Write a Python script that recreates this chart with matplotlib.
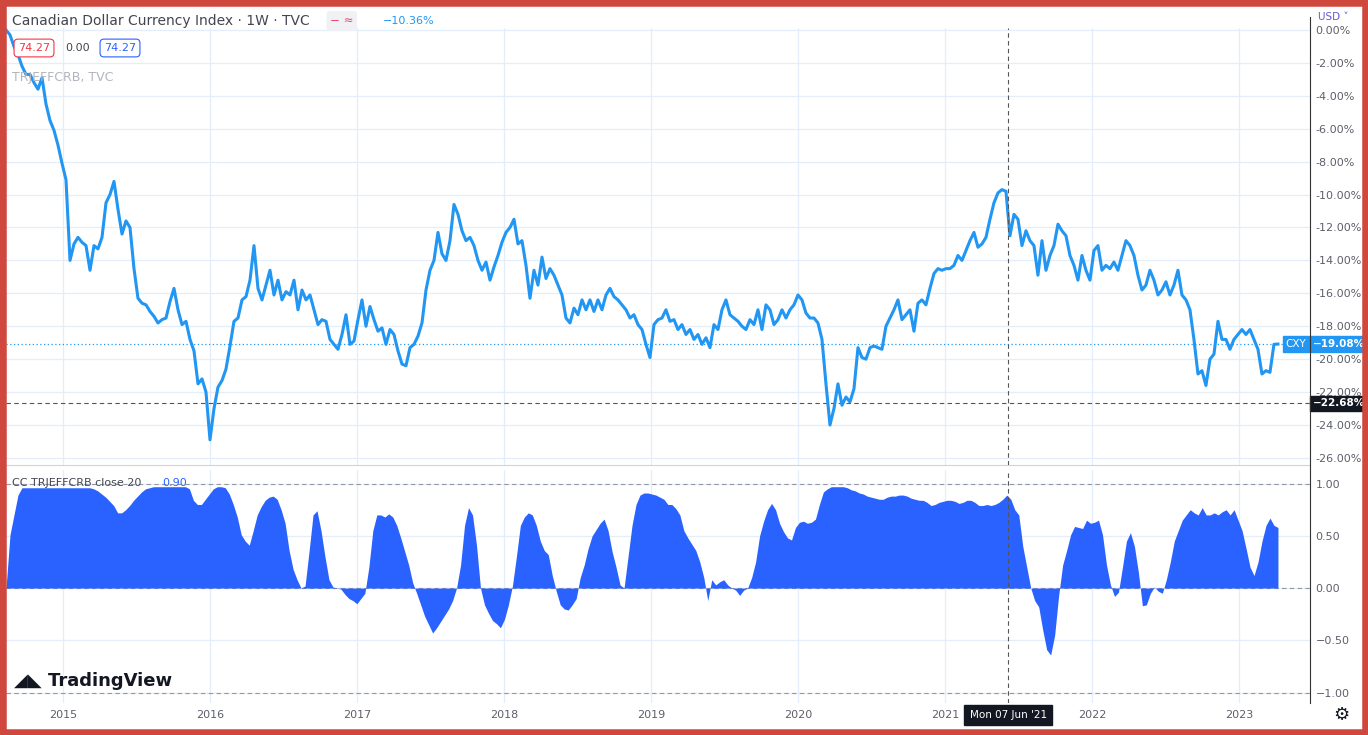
import matplotlib.pyplot as plt
import numpy as np
from matplotlib.patches import Rectangle

# CXY weekly change (%) sampled evenly from mid-2014 to Mar 2023
cxy = [0, -0.3, -1.0, -1.5, -2.2, -2.7, -2.7, -3.2, -3.6, -2.9, -4.5, -5.5, -6.1, -7.0, -8.1, -9.1,
       -14.0, -13.0, -12.6, -12.9, -13.1, -14.6, -13.1, -13.3, -12.6, -10.5, -10.0, -9.2, -10.9, -12.4,
       -11.6, -12.0, -14.5, -16.3, -16.6, -16.7, -17.1, -17.4, -17.8, -17.6, -17.5, -16.5, -15.7, -17.0,
       -17.9, -17.7, -18.8, -19.5, -21.5, -21.2, -22.0, -24.9, -23.0, -21.7, -21.3, -20.6, -19.2, -17.7,
       -17.5, -16.4, -16.2, -15.2, -13.1, -15.7, -16.4, -15.5, -14.6, -16.1, -15.2, -16.4, -15.9, -16.1,
       -15.2, -17.0, -15.8, -16.4, -16.1, -17.0, -17.9, -17.6, -17.7, -18.8, -19.1, -19.4, -18.5, -17.3,
       -19.1, -18.9, -17.6, -16.4, -18.0, -16.8, -17.6, -18.3, -18.1, -19.1, -18.2, -18.5, -19.5, -20.3,
       -20.4, -19.3, -19.1, -18.6, -17.8, -15.8, -14.6, -14.0, -12.3, -13.6, -14.0, -12.8, -10.6, -11.2,
       -12.2, -12.8, -12.6, -13.1, -14.0, -14.6, -14.1, -15.2, -14.4, -13.7, -12.9, -12.3, -12.0, -11.5,
       -13.0, -12.8, -14.3, -16.3, -14.6, -15.5, -13.8, -15.1, -14.5, -14.9, -15.5, -16.1, -17.5, -17.8,
       -16.9, -17.3, -16.4, -17.0, -16.4, -17.1, -16.4, -17.0, -16.1, -15.7, -16.2, -16.4, -16.7, -17.0,
       -17.5, -17.3, -17.9, -18.2, -19.1, -19.9, -17.9, -17.6, -17.5, -17.0, -17.7, -17.6, -18.2, -17.9,
       -18.5, -18.2, -18.8, -18.5, -19.1, -18.7, -19.3, -17.9, -18.2, -17.0, -16.4, -17.3, -17.5, -17.7,
       -18.0, -18.2, -17.6, -17.9, -17.0, -18.2, -16.7, -17.0, -17.9, -17.6, -17.0, -17.5, -17.0, -16.7,
       -16.1, -16.4, -17.2, -17.5, -17.5, -17.8, -18.8, -21.5, -24.0, -23.0, -21.5, -22.8, -22.3, -22.6,
       -21.8, -19.3, -19.9, -20.0, -19.3, -19.2, -19.3, -19.4, -18.0, -17.5, -17.0, -16.4, -17.6, -17.3,
       -17.0, -18.3, -16.6, -16.4, -16.7, -15.7, -14.8, -14.5, -14.6, -14.5, -14.5, -14.3, -13.7, -14.0,
       -13.4, -12.8, -12.3, -13.2, -13.0, -12.6, -11.5, -10.5, -9.9, -9.7, -9.8, -12.5, -11.2, -11.5,
       -13.1, -12.2, -12.8, -13.1, -14.9, -12.8, -14.6, -13.7, -13.1, -11.8, -12.2, -12.5, -13.7, -14.3,
       -15.2, -13.7, -14.6, -15.2, -13.4, -13.1, -14.6, -14.3, -14.5, -14.1, -14.6, -13.7, -12.8, -13.1,
       -13.7, -14.9, -15.8, -15.5, -14.6, -15.2, -16.1, -15.8, -15.3, -16.1, -15.5, -14.6, -16.1, -16.4,
       -17.0, -18.8, -20.9, -20.7, -21.6, -20.0, -19.7, -17.7, -18.8, -18.8, -19.4, -18.8, -18.5, -18.2,
       -18.5, -18.2, -18.8, -19.4, -20.9, -20.7, -20.8, -19.1, -19.08]

# 20-period correlation with TRJEFFCRB
corr = [0, 0.51, 0.70, 0.89, 0.96] + [0.96] * 17 + [0.95, 0.93, 0.90, 0.87, 0.83, 0.79, 0.72, 0.72,
        0.75, 0.79, 0.84, 0.88, 0.92, 0.95, 0.96, 0.97] + [0.97] * 8 + [
        0.95, 0.84, 0.80, 0.80, 0.85, 0.90, 0.95, 0.97, 0.97, 0.96, 0.90, 0.80, 0.68, 0.51, 0.45, 0.41,
        0.55, 0.70, 0.78, 0.84, 0.87, 0.88, 0.85, 0.75, 0.62, 0.36, 0.18, 0.08, 0, 0.02, 0.35, 0.70, 0.74,
        0.55, 0.30, 0.08, 0.01, 0, -0.01, -0.06, -0.10, -0.12, -0.15, -0.10, -0.05, 0.20, 0.55, 0.70, 0.70,
        0.68, 0.71, 0.68, 0.60, 0.48, 0.35, 0.22, 0.05, -0.05, -0.16, -0.27, -0.35, -0.43, -0.38, -0.32,
        -0.26, -0.20, -0.12, 0.0, 0.22, 0.60, 0.77, 0.70, 0.41, 0, -0.16, -0.24, -0.31, -0.34, -0.38, -0.30,
        -0.16, 0.02, 0.30, 0.60, 0.68, 0.72, 0.70, 0.60, 0.45, 0.36, 0.32, 0.12, -0.03, -0.16, -0.20, -0.21,
        -0.16, -0.10, 0.10, 0.22, 0.38, 0.50, 0.56, 0.62, 0.66, 0.55, 0.35, 0.20, 0.03, 0, 0.30, 0.60, 0.80,
        0.89, 0.91, 0.91, 0.90, 0.89, 0.87, 0.85, 0.80, 0.80, 0.76, 0.70, 0.55, 0.48, 0.42, 0.36, 0.25,
        0.10, -0.12, 0.08, 0.03, 0.06, 0.08, 0.03, 0, -0.02, -0.07, -0.02, 0, 0.10, 0.25, 0.50, 0.64, 0.75,
        0.81, 0.75, 0.62, 0.54, 0.48, 0.46, 0.58, 0.63, 0.64, 0.62, 0.63, 0.66, 0.80, 0.92, 0.95, 0.97,
        0.97, 0.97, 0.97, 0.96, 0.94, 0.93, 0.91, 0.90, 0.88, 0.87, 0.86, 0.85, 0.85, 0.87, 0.88, 0.88,
        0.89, 0.89, 0.88, 0.86, 0.85, 0.84, 0.84, 0.82, 0.79, 0.80, 0.82, 0.83, 0.84, 0.84, 0.83, 0.81,
        0.82, 0.84, 0.84, 0.82, 0.79, 0.79, 0.80, 0.79, 0.80, 0.82, 0.85, 0.89, 0.85, 0.75, 0.70, 0.40,
        0.20, 0, -0.12, -0.18, -0.40, -0.59, -0.64, -0.45, -0.07, 0.22, 0.36, 0.51, 0.59, 0.58, 0.57, 0.65,
        0.62, 0.63, 0.65, 0.51, 0.22, 0.03, -0.08, -0.04, 0.20, 0.45, 0.53, 0.40, 0.15, -0.17, -0.16, -0.05,
        0.01, -0.03, -0.05, 0.08, 0.25, 0.45, 0.55, 0.65, 0.70, 0.75, 0.72, 0.70, 0.77, 0.70, 0.70, 0.72,
        0.70, 0.73, 0.75, 0.70, 0.75, 0.65, 0.55, 0.38, 0.20, 0.12, 0.25, 0.45, 0.60, 0.67, 0.60, 0.58]

years = [2015, 2016, 2017, 2018, 2019, 2020, 2021, 2022, 2023]
start, end = 2014.612, 2023.265
last_val, low_val = -19.08, -22.68
cursor = 2021.43

blue = '#2196f3'
fill_blue = '#2962ff'
grid_c = '#e3eefa'
txt_c = '#5d606b'

fig = plt.figure(figsize=(13.68, 7.35), dpi=100)
W, H = 1368, 735
x0, x1 = 2014.612, 2023.483
ax1 = fig.add_axes([6 / W, (735 - 465) / H, 1304 / W, 437 / H])
ax2 = fig.add_axes([6 / W, 32 / H, 1304 / W, 233 / H])

t1 = np.linspace(start, end, len(cxy))
t2 = np.linspace(start, end, len(corr))

ax1.plot(t1, cxy, color=blue, lw=2.2, zorder=3)
ax1.set_ylim(-26.43, 0.12)
c = np.array(corr)
ax2.fill_between(t2, 0, c, color=fill_blue, lw=0, zorder=3)
ax2.set_ylim(-1.1, 1.13)

for ax in (ax1, ax2):
    ax.set_xlim(x0, x1)
    ax.set_xticks(years)
    ax.tick_params(axis='x', length=0, labelbottom=False)
    ax.yaxis.tick_right()
    ax.tick_params(axis='y', length=0, labelsize=8, labelcolor=txt_c, pad=4)
    ax.grid(color=grid_c, lw=0.9, zorder=0)
    for s in ax.spines.values():
        s.set_visible(False)
    ax.axvline(cursor, color='#555', ls=(0, (4, 3)), lw=0.8, zorder=4)

ax1.spines['bottom'].set_visible(True)
ax1.spines['bottom'].set_color('#cfd3dc')
ax1.set_yticks(np.arange(0, -27, -2))
ax1.set_yticklabels(['%.2f%%' % v if v != 0 else '0.00%' for v in np.arange(0, -27, -2)])
ax2.set_yticks([1, 0.5, 0, -0.5, -1])
ax2.set_yticklabels(['1.00', '0.50', '0.00', '\u22120.50', '\u22121.00'])
for v in (1, 0, -1):
    ax2.axhline(v, color='#9598a1', ls=(0, (4, 3)), lw=0.8, zorder=2)

ax1.axhline(last_val, color=blue, ls=(0, (1, 2)), lw=0.9, zorder=2)
ax1.axhline(low_val, color='#555', ls=(0, (4, 3)), lw=0.8, zorder=2)
ax1.text(1.002, last_val, '\u221219.08%', transform=ax1.get_yaxis_transform(), va='center', ha='left',
         fontsize=7.5, color='white', fontweight='bold',
         bbox=dict(boxstyle='square,pad=0.25', fc=blue, ec=blue))
ax1.text(0.997, last_val, 'CXY', transform=ax1.get_yaxis_transform(), va='center', ha='right',
         fontsize=7.5, color='white', bbox=dict(boxstyle='square,pad=0.25', fc=blue, ec=blue))
ax1.text(1.002, low_val, '\u221222.68%', transform=ax1.get_yaxis_transform(), va='center', ha='left',
         fontsize=7.5, color='white', fontweight='bold',
         bbox=dict(boxstyle='square,pad=0.25', fc='#131722', ec='#131722'))

# x labels row
def fx(y):
    return (6 + (y - x0) / (x1 - x0) * 1304) / W

for y in years:
    fig.text(fx(y), 20 / H, str(y), ha='center', va='center', fontsize=8, color=txt_c)
fig.text(fx(cursor), 20 / H, "Mon 07 Jun '21", ha='center', va='center', fontsize=7.5, color='white',
         bbox=dict(boxstyle='square,pad=0.5', fc='#131722', ec='#131722'))
fig.text(1341 / W, 20 / H, '\u2699', ha='center', va='center', fontsize=13, color='#131722')

# header texts
fig.text(12 / W, 714 / H, 'Canadian Dollar Currency Index \u00b7 1W \u00b7 TVC', fontsize=10, color='#434651',
         va='center')
fig.text(383 / W, 714 / H, '\u221210.36%', fontsize=8, color=blue, va='center')
fig.text(330 / W, 714 / H, '\u2212 \u2248', fontsize=8.5, color='#e84a6f', va='center',
         bbox=dict(boxstyle='round,pad=0.3', fc='#f0f1f4', ec='none'))
fig.text(34 / W, 687 / H, '74.27', fontsize=8, color='#f23645', ha='center', va='center',
         bbox=dict(boxstyle='round,pad=0.35', fc='white', ec='#f23645', lw=0.8))
fig.text(78 / W, 687 / H, '0.00', fontsize=8, color='#434651', ha='center', va='center')
fig.text(120 / W, 687 / H, '74.27', fontsize=8, color='#2962ff', ha='center', va='center',
         bbox=dict(boxstyle='round,pad=0.35', fc='white', ec='#2962ff', lw=0.8))
fig.text(12 / W, 658 / H, 'TRJEFFCRB, TVC', fontsize=9, color='#b2b5be', va='center')
fig.text(12 / W, 252 / H, 'CC TRJEFFCRB close 20', fontsize=8, color='#434651', va='center')
fig.text(162 / W, 252 / H, '0.90', fontsize=8, color=fill_blue, va='center')
fig.text(14 / W, 54 / H, '\u25e2\u25e3 TradingView', fontsize=13, fontweight='bold', color='#131722', va='center')
fig.text(1318 / W, 718 / H, 'USD \u02c5', fontsize=7.5, color='#6a5acd', va='center')

# right axis separator and red border
fig.add_artist(plt.Line2D([1310 / W, 1310 / W], [32 / H, 718 / H], color='#333', lw=0.8))
fig.add_artist(Rectangle((0, 0), 1, 1, transform=fig.transFigure, fill=False, ec='#d0473d', lw=9))

fig.savefig('out.png', dpi=100)
